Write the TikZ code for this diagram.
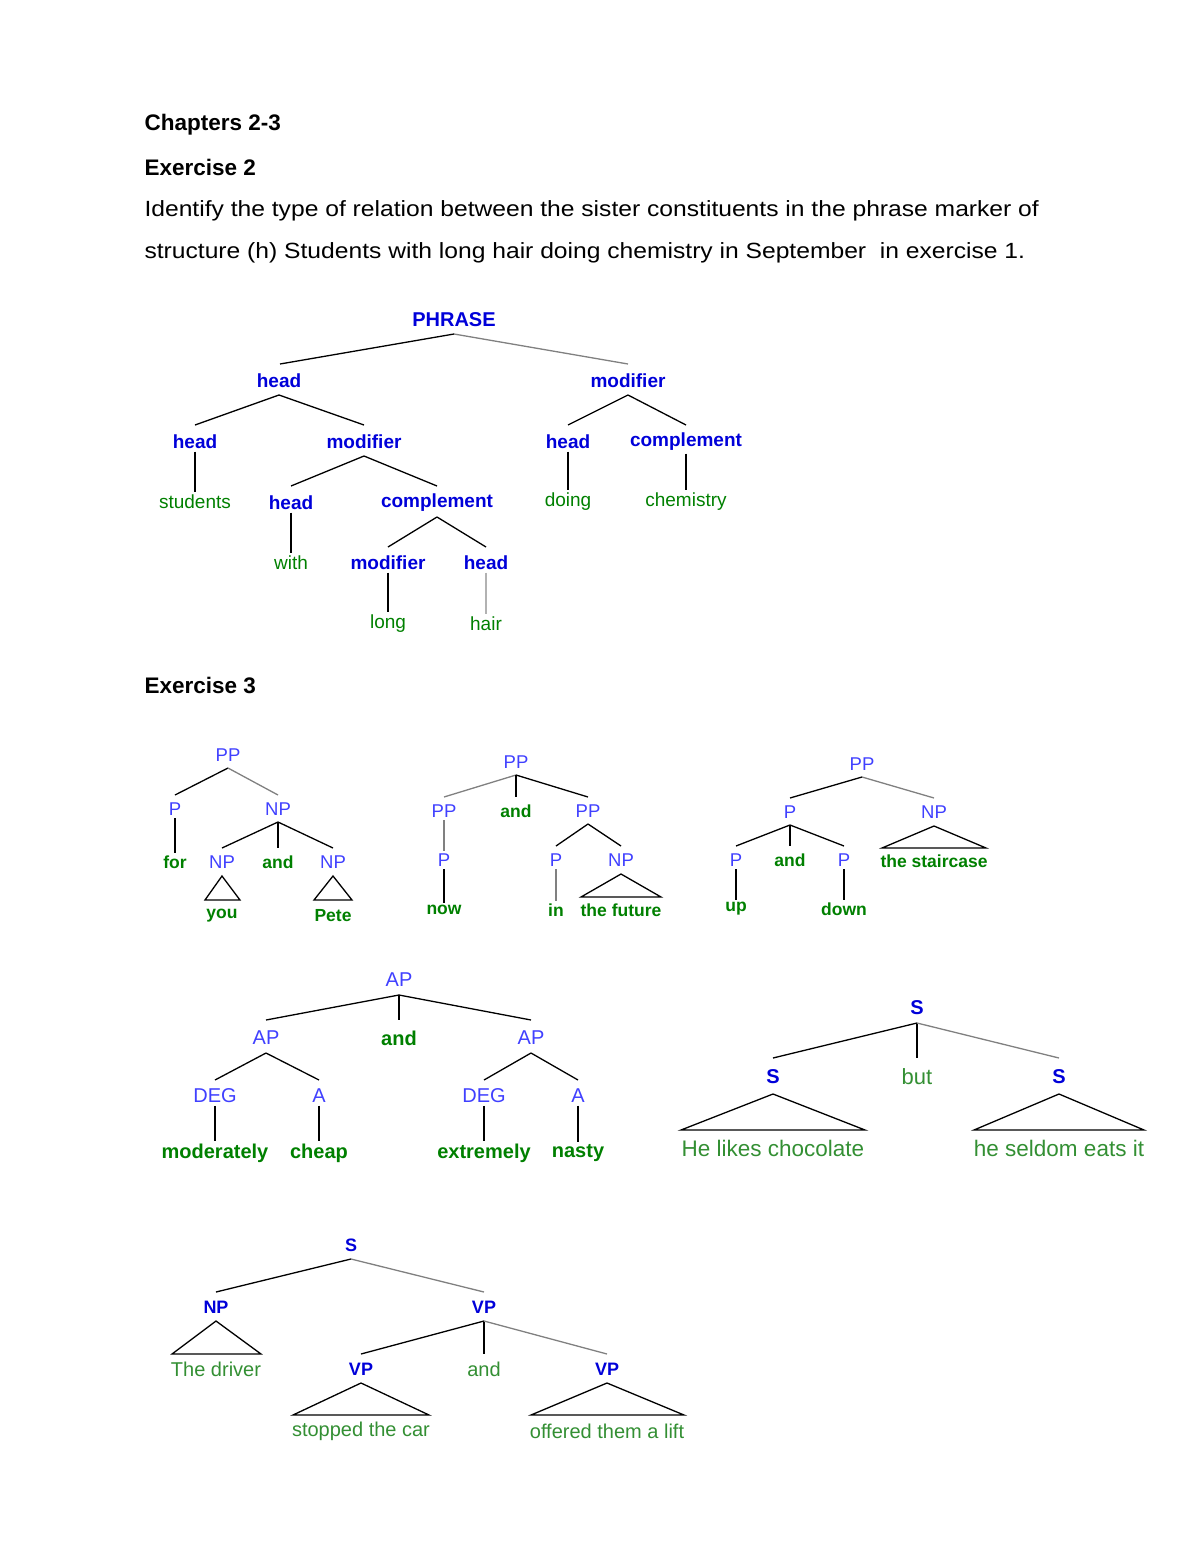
\documentclass[tikz,border=0pt]{standalone}
\usepackage{fontspec}
\setmainfont{Liberation Sans}
\newcommand{\fs}[1]{\fontsize{#1}{#1}\selectfont}
\begin{document}
\begin{tikzpicture}[x=1pt,y=-1pt,
 bl/.style={text=blue!85!black,font=\bfseries\fs{19},inner sep=2.5pt},
 blt/.style={text=blue!75!white,font=\fs{18.5},inner sep=2.5pt},
 gr/.style={text=green!50!black,font=\fs{19},inner sep=2.5pt},
 grb/.style={text=green!50!black,font=\bfseries\fs{17.5},inner sep=2.5pt},
 grl/.style={text=green!45!black!80,font=\fs{20},inner sep=2.5pt},
 ln/.style={draw=black,line width=1.3pt},
 lg/.style={draw=gray,line width=1.3pt}]
\useasboundingbox (0,0) rectangle (1200,1553);
\node[anchor=west,font=\bfseries\fs{22.5}] (t1) at (141,125) {Chapters 2-3};
\node[anchor=west,font=\bfseries\fs{22.5}] (t2) at (141,167) {Exercise 2};
\node[anchor=west,font=\fs{22}] (t3) at (141,211) {\scalebox{1.12}[1]{Identify the type of relation between the sister constituents in the phrase marker of}};
\node[anchor=west,font=\fs{22}] (t4) at (141,253) {\scalebox{1.12}[1]{structure (h) Students with long hair doing chemistry in September\ \ in exercise 1.}};
\node[anchor=west,font=\bfseries\fs{22.5}] (t5) at (141,685) {Exercise 3};
% Tree 1
\node[bl,font=\bfseries\fs{20}] (a) at (454,320) {PHRASE};
\node[bl] (a1) at (279,381) {head};
\node[bl] (a2) at (628,381) {modifier};
\draw[ln] (454,334) -- (280,364); \draw[lg] (454,334) -- (628,364);
\node[bl] (b1) at (195,442) {head};
\node[bl] (b2) at (364,442) {modifier};
\draw[ln] (279,395) -- (195,425); \draw[ln] (279,395) -- (364,425);
\node[bl] (b3) at (568,442) {head};
\node[bl] (b4) at (686,442) {complement};
\draw[ln] (628,395) -- (568,425); \draw[ln] (628,395) -- (686,425);
\node[gr] (c1) at (195,502) {students}; \draw[ln] (b1.south) -- (c1.north);
\node[bl] (c2) at (291,503) {head};
\node[bl] (c3) at (437,503) {complement};
\draw[ln] (364,456) -- (291,486); \draw[ln] (364,456) -- (437,486);
\node[gr] (c4) at (568,502) {doing}; \draw[ln] (b3.south) -- (c4.north);
\node[gr] (c5) at (686,502) {chemistry}; \draw[ln] (b4.south) -- (c5.north);
\node[gr] (d1) at (291,563) {with}; \draw[ln] (c2.south) -- (d1.north);
\node[bl] (d2) at (388,563) {modifier};
\node[bl] (d3) at (486,563) {head};
\draw[ln] (437,517) -- (388,547); \draw[ln] (437,517) -- (486,547);
\node[gr] (e1) at (388,624) {long}; \draw[ln] (d2.south) -- (e1.north);
\node[gr] (e2) at (486,624) {hair}; \draw[draw=gray!60,line width=1.3pt] (d3.south) -- (e2.north);
% Tree A
\node[blt] (pa) at (228,755) {PP};
\draw[ln] (228,768) -- (175,795); \draw[lg] (228,768) -- (278,795);
\node[blt] (pa1) at (175,809) {P};
\node[blt] (pa2) at (278,809) {NP};
\node[grb] (pa3) at (175,862) {for}; \draw[ln] (pa1.south) -- (pa3.north);
\draw[ln] (278,822) -- (222,848); \draw[ln] (278,822) -- (278,848); \draw[ln] (278,822) -- (333,848);
\node[blt] (pa4) at (222,862) {NP};
\node[grb] (pa5) at (278,862) {and};
\node[blt] (pa6) at (333,862) {NP};
\draw[ln] (222,876) -- (205,900) -- (240,900) -- cycle;
\draw[ln] (333,876) -- (314,900) -- (352,900) -- cycle;
\node[grb] (pa7) at (222,916) {you};
\node[grb] (pa8) at (333,916) {Pete};
% Tree B
\node[blt] (pb) at (516,762) {PP};
\draw[lg] (516,775) -- (444,797); \draw[ln] (516,775) -- (516,797); \draw[ln] (516,775) -- (588,797);
\node[blt] (pb1) at (444,811) {PP};
\node[grb] (pb2) at (516,811) {and};
\node[blt] (pb3) at (588,811) {PP};
\node[blt] (pb4) at (444,860) {P}; \draw[lg] (pb1.south) -- (pb4.north);
\node[grb] (pb5) at (444,910) {now}; \draw[ln] (pb4.south) -- (pb5.north);
\draw[ln] (588,824) -- (556,846); \draw[ln] (588,824) -- (621,846);
\node[blt] (pb6) at (556,860) {P};
\node[blt] (pb7) at (621,860) {NP};
\node[grb] (pb8) at (556,910) {in}; \draw[lg] (pb6.south) -- (pb8.north);
\draw[ln] (621,874) -- (581,897) -- (661,897) -- cycle;
\node[grb] (pb9) at (621,910) {the future};
% Tree C
\node[blt] (pc) at (862,764) {PP};
\draw[ln] (862,777) -- (790,798); \draw[lg] (862,777) -- (934,798);
\node[blt] (pc1) at (790,812) {P};
\node[blt] (pc2) at (934,812) {NP};
\draw[ln] (790,825) -- (736,846); \draw[ln] (790,825) -- (790,846); \draw[ln] (790,825) -- (844,846);
\node[blt] (pc3) at (736,860) {P};
\node[grb] (pc4) at (790,860) {and};
\node[blt] (pc5) at (844,860) {P};
\draw[ln] (934,826) -- (882,848) -- (986,848) -- cycle;
\node[grb] (pc6) at (934,861) {the staircase};
\node[grb] (pc7) at (736,909) {up}; \draw[ln] (pc3.south) -- (pc7.north);
\node[grb] (pc8) at (844,909) {down}; \draw[ln] (pc5.south) -- (pc8.north);
% Tree D
\node[blt,font=\fs{20}] (pd) at (399,980) {AP};
\draw[ln] (399,995) -- (266,1020); \draw[ln] (399,995) -- (399,1020); \draw[ln] (399,995) -- (531,1020);
\node[blt,font=\fs{20}] (pd1) at (266,1038) {AP};
\node[grb,font=\bfseries\fs{20}] (pd2) at (399,1038) {and};
\node[blt,font=\fs{20}] (pd3) at (531,1038) {AP};
\draw[ln] (266,1053) -- (215,1080); \draw[ln] (266,1053) -- (319,1080);
\draw[ln] (531,1053) -- (484,1080); \draw[ln] (531,1053) -- (578,1080);
\node[blt,font=\fs{20}] (pd4) at (215,1096) {DEG};
\node[blt,font=\fs{20}] (pd5) at (319,1096) {A};
\node[blt,font=\fs{20}] (pd6) at (484,1096) {DEG};
\node[blt,font=\fs{20}] (pd7) at (578,1096) {A};
\node[grb,font=\bfseries\fs{20}] (pd8) at (215,1153) {moderately};
\node[grb,font=\bfseries\fs{20}] (pd9) at (319,1153) {cheap};
\node[grb,font=\bfseries\fs{20}] (pd10) at (484,1153) {extremely};
\node[grb,font=\bfseries\fs{20}] (pd11) at (578,1153) {nasty};
\draw[ln] (pd4.south) -- (pd8.north); \draw[ln] (pd5.south) -- (pd9.north);
\draw[ln] (pd6.south) -- (pd10.north); \draw[ln] (pd7.south) -- (pd11.north);
% Tree E
\node[bl,font=\bfseries\fs{20}] (pe) at (917,1008) {S};
\draw[ln] (917,1023) -- (773,1058); \draw[ln] (917,1023) -- (917,1058); \draw[lg] (917,1023) -- (1059,1058);
\node[bl,font=\bfseries\fs{20}] (pe1) at (773,1077) {S};
\node[grl,font=\fs{22}] (pe2) at (917,1077) {but};
\node[bl,font=\bfseries\fs{20}] (pe3) at (1059,1077) {S};
\draw[ln] (773,1094) -- (681,1130) -- (865,1130) -- cycle;
\draw[ln] (1059,1094) -- (974,1130) -- (1144,1130) -- cycle;
\node[grl,font=\fs{22.5}] (pe4) at (773,1148) {He likes chocolate};
\node[grl,font=\fs{22.5}] (pe5) at (1059,1148) {he seldom eats it};
% Tree F
\node[bl,font=\bfseries\fs{18}] (pf) at (351,1245) {S};
\draw[ln] (351,1259) -- (216,1292); \draw[lg] (351,1259) -- (484,1292);
\node[bl,font=\bfseries\fs{18}] (pf1) at (216,1307) {NP};
\node[bl,font=\bfseries\fs{18}] (pf2) at (484,1307) {VP};
\draw[ln] (216,1321) -- (172,1354) -- (261,1354) -- cycle;
\node[grl] (pf3) at (216,1369) {The driver};
\draw[ln] (484,1321) -- (361,1354); \draw[ln] (484,1321) -- (484,1354); \draw[lg] (484,1321) -- (607,1354);
\node[bl,font=\bfseries\fs{18}] (pf4) at (361,1369) {VP};
\node[grl] (pf5) at (484,1369) {and};
\node[bl,font=\bfseries\fs{18}] (pf6) at (607,1369) {VP};
\draw[ln] (361,1383) -- (293,1415) -- (429,1415) -- cycle;
\draw[ln] (607,1383) -- (531,1415) -- (684,1415) -- cycle;
\node[grl] (pf7) at (361,1431) {stopped the car};
\node[grl] (pf8) at (607,1431) {offered them a lift};
\end{tikzpicture}
\end{document}
